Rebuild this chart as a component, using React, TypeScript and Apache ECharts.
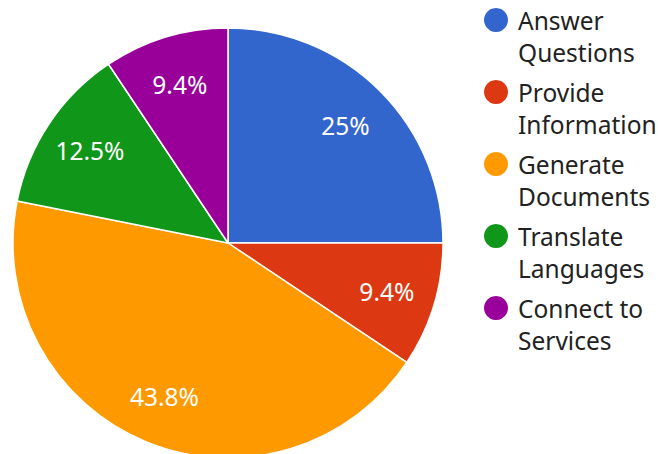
import React, { useEffect, useRef } from "react";
import * as echarts from "echarts";

const categories = [
  "Answer\nQuestions",
  "Provide\nInformation",
  "Generate\nDocuments",
  "Translate\nLanguages",
  "Connect to\nServices",
];
const values = [8, 3, 14, 4, 3];
const colors = ["#3366cc", "#dc3912", "#ff9900", "#109618", "#990099"];

const FONT = "'Noto Sans', sans-serif";

export default function App() {
  const ref = useRef<HTMLDivElement>(null);
  useEffect(() => {
    document.body.style.margin = "0";
    const chart = echarts.init(ref.current!, null, { renderer: "svg" });
    const total = values.reduce((a, b) => a + b, 0);
    const data = categories.map((c, i) => ({
      name: c,
      value: values[i],
      itemStyle: { color: colors[i] },
    }));
    const legendGraphics: any[] = [];
    categories.forEach((c, i) => {
      const y = 20 + i * 72;
      legendGraphics.push({
        type: "circle",
        shape: { cx: 496, cy: y, r: 12 },
        style: { fill: colors[i] },
      });
      legendGraphics.push({
        type: "text",
        x: 518,
        y: y - 16,
        style: {
          text: c,
          fill: "#222222",
          font: `24.5px ${FONT}`,
          lineHeight: 32,
          textVerticalAlign: "top",
        },
      });
    });
    chart.setOption({
      animation: false,
      textStyle: { fontFamily: FONT },
      series: [
        {
          type: "pie",
          center: [228, 243],
          radius: [0, 215],
          startAngle: 90,
          clockwise: true,
          data,
          label: { show: false },
          labelLine: { show: false },
          itemStyle: { borderColor: "#ffffff", borderWidth: 1.5 },
          emphasis: { disabled: true },
          silent: true,
        },
        {
          type: "pie",
          center: [228, 243],
          radius: [111, 215],
          startAngle: 90,
          clockwise: true,
          data: categories.map((c, i) => ({ name: c, value: values[i] })),
          itemStyle: { color: "transparent", borderWidth: 0 },
          label: {
            show: true,
            position: "inside",
            color: "#ffffff",
            fontSize: 24.5,
            fontFamily: FONT,
            formatter: (p: any) => {
              const pct = (p.value / total) * 100;
              return `${parseFloat(pct.toFixed(1))}%`;
            },
          },
          labelLine: { show: false },
          emphasis: { disabled: true },
          silent: true,
        },
      ],
      graphic: legendGraphics,
    });
    return () => chart.dispose();
  }, []);
  return <div ref={ref} style={{ width: 658, height: 454 }} />;
}
